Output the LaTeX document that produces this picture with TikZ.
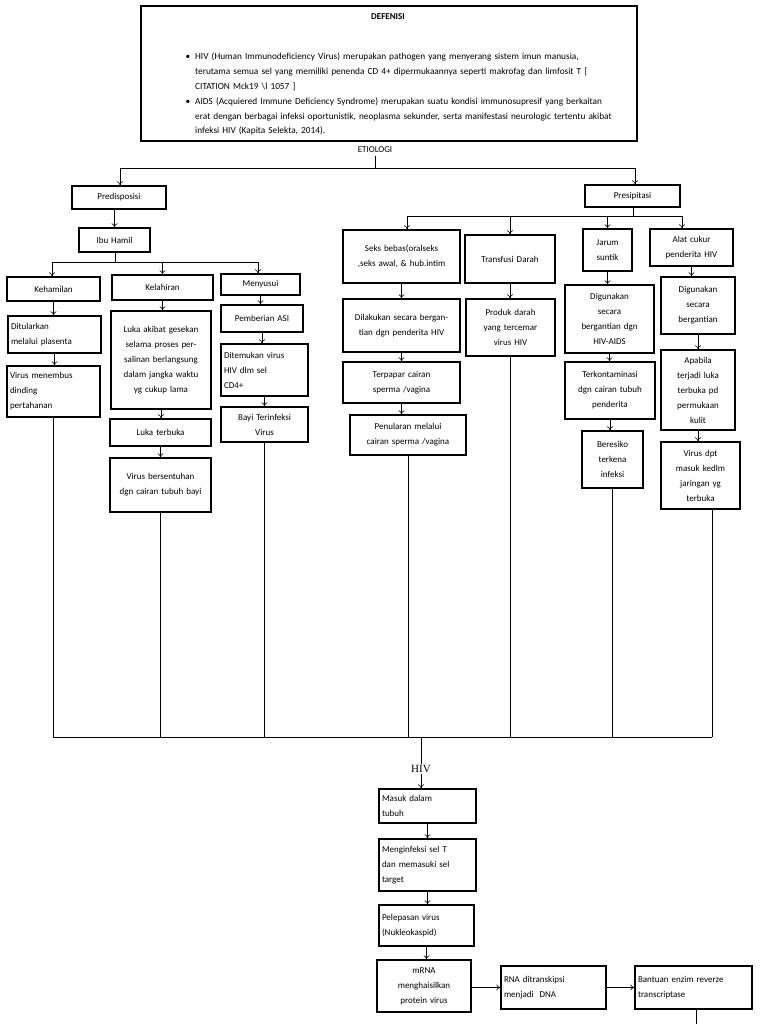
\documentclass[tikz,border=0pt]{standalone}
\usepackage{fontspec}
\setmainfont{Carlito}
\usetikzlibrary{arrows.meta}
\tikzset{
  box/.style={draw, line width=1.4pt, inner sep=2pt, font=\fontsize{9}{15}\selectfont},
  arr/.style={-{To[length=4pt,width=6pt]}, line width=0.6pt},
  ln/.style={line width=0.6pt}
}
\newcommand{\bx}[7]{%
  \pgfmathsetmacro\tw{#4-#2-6}%
  \pgfmathsetmacro\mw{#4-#2}%
  \pgfmathsetmacro\mh{#5-#3}%
  \node[box, align=#6, text width=\tw pt, minimum width=\mw pt, minimum height=\mh pt] (#1) at ({(#2+#4)/2},{(#3+#5)/2}) {#7};}
\begin{document}
\begin{tikzpicture}[x=1pt,y=-1pt]
\useasboundingbox (0,0) rectangle (768,1024);
% definition box
\node[draw, line width=1.6pt, minimum width=496pt, minimum height=135pt, anchor=north west] (def) at (140,5) {};
\node[font=\fontsize{9}{14}\selectfont\bfseries] (deft) at (388,17) {DEFENISI};
\node[anchor=north west, text width=445pt, font=\fontsize{9.3}{14.8}\selectfont, inner sep=0pt] (defb) at (170,37) {%
\begin{itemize}\setlength{\itemsep}{0pt}\setlength{\parskip}{0pt}\setlength{\leftmargin}{20pt}
\item HIV (Human Immunodeficiency Virus) merupakan pathogen yang menyerang sistem imun manusia, terutama semua sel yang memiliki penenda CD 4+ dipermukaannya seperti makrofag dan limfosit T [ CITATION Mck19 \textbackslash l 1057 ]
\item AIDS (Acquiered Immune Deficiency Syndrome) merupakan suatu kondisi immunosupresif yang berkaitan erat dengan berbagai infeksi oportunistik, neoplasma sekunder, serta manifestasi neurologic tertentu akibat infeksi HIV (Kapita Selekta, 2014).
\end{itemize}};
\node[font=\fontsize{9}{14}\selectfont] (etio) at (375,150) {ETIOLOGI};
% left
\bx{pre}{72}{186}{166}{209}{center}{Predisposisi}
\bx{ibu}{79}{228}{150}{252}{center}{Ibu Hamil}
\bx{keh}{7}{277}{100}{301}{center}{Kehamilan}
\bx{kel}{112}{275}{213}{300}{center}{Kelahiran}
\bx{men}{221}{274}{300}{295}{center}{Menyusui}
\bx{dit}{8}{316}{101}{353}{left}{Ditularkan\\melalui plasenta}
\bx{vme}{7}{366}{100}{417}{left}{Virus menembus\\dinding\\pertahanan}
\bx{luk}{111}{311}{211}{409}{center}{Luka akibat gesekan selama proses persalinan berlangsung dalam jangka waktu yg cukup lama}
\bx{lut}{110}{419}{211}{446}{center}{Luka terbuka}
\bx{vbe}{110}{458}{211}{512}{center}{Virus bersentuhan dgn cairan tubuh bayi}
\bx{asi}{221}{305}{303}{332}{center}{Pemberian ASI}
\bx{dte}{221}{344}{308}{396}{left}{Ditemukan virus\\HIV dlm sel\\CD4+}
\bx{bay}{221}{407}{308}{442}{center}{Bayi Terinfeksi\\Virus}
% right
\bx{pres}{585}{185}{680}{207}{center}{Presipitasi}
\bx{sek}{343}{230}{460}{283}{center}{Seks bebas(oralseks ,seks awal, \& hub.intim\\[12pt]}
\bx{tra}{465}{235}{555}{283}{center}{Transfusi Darah}
\bx{jar}{583}{229}{632}{271}{center}{Jarum\\suntik}
\bx{ala}{650}{229}{733}{266}{center}{Alat cukur\\penderita HIV}
\bx{dil}{343}{299}{460}{352}{center}{Dilakukan secara bergantian dgn penderita HIV}
\bx{ter}{343}{362}{460}{403}{center}{Terpapar cairan\\sperma /vagina}
\bx{pen}{350}{415}{466}{455}{center}{Penularan melalui\\cairan sperma /vagina}
\bx{pro}{466}{299}{555}{356}{center}{Produk darah\\yang tercemar\\virus HIV}
\bx{dgj}{565}{285}{654}{353}{center}{Digunakan\\secara\\bergantian dgn\\HIV-AIDS}
\bx{tko}{565}{362}{655}{419}{center}{Terkontaminasi\\dgn cairan tubuh\\penderita}
\bx{ber}{582}{431}{643}{488}{center}{Beresiko\\terkena\\infeksi}
\bx{dga}{661}{277}{735}{334}{center}{Digunakan\\secara\\bergantian}
\bx{apa}{661}{350}{735}{430}{center}{Apabila\\terjadi luka\\terbuka pd\\permukaan\\kulit}
\bx{vdp}{661}{442}{740}{509}{center}{Virus dpt\\masuk kedlm\\jaringan yg\\terbuka}
% bottom chain
\node[font=\fontsize{11}{13}\selectfont, inner sep=1pt] (hiv) at (421,769) {\setmainfont{Liberation Serif}HIV};
\bx{mas}{379}{789}{476}{823}{left}{Masuk dalam\\tubuh}
\bx{mgi}{379}{839}{476}{891}{left}{Menginfeksi sel T\\dan memasuki sel\\target}
\bx{pel}{379}{905}{474}{946}{left}{Pelepasan virus\\(Nukleokaspid)}
\bx{mrn}{377}{960}{471}{1012}{center}{mRNA\\menghaisilkan\\protein virus}
\bx{rna}{501}{966}{606}{1009}{left}{RNA ditranskipsi\\menjadi\ \ DNA}
\bx{ban}{635}{966}{752}{1009}{left}{Bantuan enzim reverze\\transcriptase}
% coordinates
\coordinate (e1) at (375,168);
\coordinate (eL) at (120,168);
\coordinate (eR) at (635,168);
\coordinate (i1) at (115,262);
\coordinate (iL) at (52,262);
\coordinate (iR) at (258,262);
\coordinate (p1) at (633,216);
\coordinate (pL) at (407,216);
\coordinate (pR) at (682,216);
\coordinate (bL) at (53,737);
\coordinate (bR) at (712,737);
\coordinate (bH) at (421,737);
\coordinate (end) at (696,1024);
% connectors
\draw[ln] (etio) -- (e1);
\draw[ln] (eL) -- (eR);
\draw[arr] (eL) -- (eL |- pre.north);
\draw[arr] (eR) -- (eR |- pres.north);
\draw[arr] (pre.south -| ibu.north) -- (ibu.north);
\draw[ln] (ibu.south -| i1) -- (i1);
\draw[ln] (iL) -- (iR);
\draw[arr] (iL) -- (iL |- keh.north);
\draw[arr] (i1 -| kel.north) -- (kel.north);
\draw[arr] (iR) -- (iR |- men.north);
\draw[arr] (keh.south) -- (keh.south |- dit.north);
\draw[arr] (dit.south) -- (dit.south |- vme.north);
\draw[arr] (kel.south) -- (kel.south |- luk.north);
\draw[arr] (luk.south) -- (luk.south |- lut.north);
\draw[arr] (lut.south) -- (lut.south |- vbe.north);
\draw[arr] (men.south) -- (men.south |- asi.north);
\draw[arr] (asi.south) -- (asi.south |- dte.north);
\draw[arr] (dte.south) -- (dte.south |- bay.north);
\draw[ln] (pres.south -| p1) -- (p1);
\draw[ln] (pL) -- (pR);
\draw[arr] (pL) -- (pL |- sek.north);
\draw[arr] (p1 -| tra.north) -- (tra.north);
\draw[arr] (p1 -| jar.north) -- (jar.north);
\draw[arr] (pR) -- (pR |- ala.north);
\draw[arr] (sek.south -| dil.north) -- (dil.north);
\draw[arr] (dil.south) -- (dil.south |- ter.north);
\draw[arr] (ter.south) -- (ter.south |- pen.north);
\draw[arr] (tra.south) -- (tra.south |- pro.north);
\draw[arr] (jar.south) -- (jar.south |- dgj.north);
\draw[arr] (dgj.south) -- (dgj.south |- tko.north);
\draw[arr] (tko.south) -- (tko.south |- ber.north);
\draw[arr] (ala.south) -- (ala.south |- dga.north);
\draw[arr] (dga.south) -- (dga.south |- apa.north);
\draw[arr] (apa.south) -- (apa.south |- vdp.north);
% collectors
\draw[ln] (vme.south -| bL) -- (bL);
\draw[ln] (vbe.south) -- (vbe.south |- bL);
\draw[ln] (bay.south) -- (bay.south |- bL);
\draw[ln] (pen.south) -- (pen.south |- bL);
\draw[ln] (pro.south) -- (pro.south |- bL);
\draw[ln] (ber.south) -- (ber.south |- bL);
\draw[ln] (vdp.south -| bR) -- (bR);
\draw[ln] (bL) -- (bR);
\draw[ln] (bH) -- (hiv.north);
\draw[arr] (hiv.south) -- (hiv.south |- mas.north);
\draw[arr] (mas.south) -- (mas.south |- mgi.north);
\draw[arr] (mgi.south) -- (mgi.south |- pel.north);
\draw[arr] (pel.south) -- (pel.south |- mrn.north);
\draw[arr] (mrn.east |- rna.west) -- (rna.west);
\draw[arr] (rna.east) -- (ban.west);
\draw[ln] (ban.south -| end) -- (end);
\end{tikzpicture}
\end{document}
